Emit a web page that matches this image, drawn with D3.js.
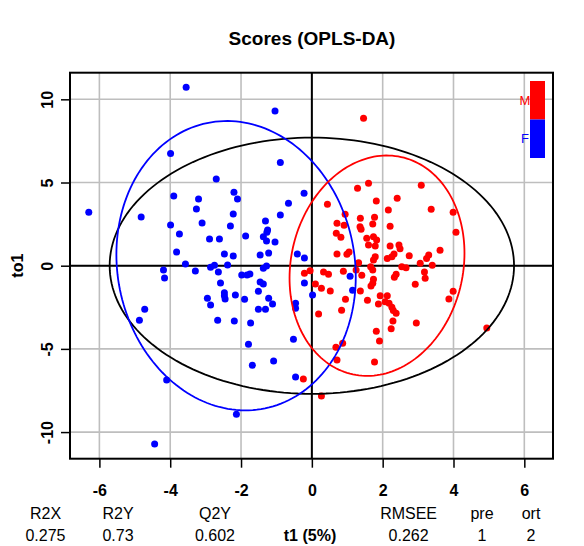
<!DOCTYPE html>
<html>
<head>
<meta charset="utf-8">
<script src="https://cdn.jsdelivr.net/npm/d3@7/dist/d3.min.js"></script>
<style>
  body { margin: 0; background: #fff; }
  svg { font-family: Arial, "Liberation Sans", sans-serif; }
</style>
</head>
<body>
<svg id="chart" width="584" height="546"></svg>
<script>
// Data (scores)
const femaleT1 = [-3.55,-1.04,-3.99,-0.89,-2.70,-6.30,-4.82,-3.90,-3.20,-3.26,-2.20,-2.10,-2.22,-3.99,-3.10,-2.30,-3.74,-2.89,-2.61,-1.87,-1.31,-1.25,-1.27,-1.37,-1.28,-1.04,-0.66,-0.89,-0.22,-3.82,-2.47,-2.22,-1.46,-1.22,-0.41,-0.21,-3.57,-4.19,-4.16,-3.29,-2.86,-2.75,-2.38,-2.64,-2.58,-1.98,-1.83,-1.75,-1.37,-1.28,-1.46,-1.37,-0.21,0.02,-2.47,-2.47,-2.45,-2.95,-2.86,-2.16,-1.90,-1.51,-1.22,-1.11,-1.51,-1.31,-0.46,-0.46,-4.72,-4.87,-2.66,-2.19,-1.73,-1.79,-0.52,-1.08,-1.68,-0.46,-4.10,-2.13,-4.44,1.08,1.15];
const femaleTo1 = [10.72,9.30,6.75,6.21,5.21,3.21,2.93,4.19,4.01,3.41,4.41,4.01,3.11,2.45,2.57,2.39,1.91,1.60,1.60,1.78,2.69,2.15,2.01,1.74,1.48,1.42,3.75,3.05,4.35,0.82,0.70,0.58,0.64,0.76,0.70,0.46,0.10,-0.26,-0.74,-0.32,-0.10,0.02,0.04,-0.38,-1.04,-0.56,-0.56,-0.50,-0.16,-0.02,-0.98,-1.10,-1.04,-1.76,-1.62,-1.80,-2.00,-1.96,-2.36,-1.76,-2.02,-1.54,-1.96,-2.30,-2.62,-2.62,-2.26,-2.56,-2.62,-3.28,-3.28,-3.32,-3.44,-4.72,-4.42,-5.73,-5.99,-6.69,-6.87,-8.93,-10.72,-0.64,-1.48];

const maleT1 = [1.46,1.60,1.29,3.09,1.82,2.41,0.44,2.16,3.37,3.99,0.94,1.37,1.77,0.71,0.91,1.36,1.39,1.72,2.21,4.07,0.69,0.82,1.55,1.74,1.83,1.60,1.79,2.21,2.46,2.49,3.62,0.71,0.99,1.05,1.79,2.13,2.26,2.32,2.75,3.24,3.30,3.06,3.40,1.32,1.74,1.66,2.54,2.66,-0.05,0.33,-0.21,0.47,0.89,1.25,1.72,1.41,1.74,1.72,1.67,2.38,2.33,3.18,3.20,2.92,0.10,0.27,0.52,1.37,0.95,1.57,1.93,2.13,2.07,1.88,2.18,2.26,2.30,2.38,3.99,3.87,0.84,0.19,2.29,2.24,2.95,1.82,1.91,0.87,0.68,0.71,1.77,4.94,-0.24,0.27];
const maleTo1 = [8.86,4.95,4.65,4.83,3.89,4.05,3.69,3.35,3.39,3.21,3.09,2.85,2.91,2.55,2.43,2.34,2.19,2.51,2.37,2.01,1.95,1.71,1.65,1.74,1.54,1.24,1.18,1.18,1.24,1.02,0.93,0.70,0.69,0.82,0.54,0.44,0.54,0.70,0.60,0.44,0.64,0.14,0.02,0.18,0.34,-0.06,-0.06,-0.12,-0.30,-0.38,-0.46,-0.52,-0.34,-0.26,-0.26,-0.58,-0.82,-1.06,-1.22,-0.52,-0.70,-0.38,-0.76,-1.12,-1.10,-1.36,-1.52,-1.52,-2.02,-2.08,-1.80,-1.80,-2.16,-2.30,-2.26,-2.50,-2.70,-2.86,-1.54,-2.00,-2.68,-2.90,-3.32,-3.79,-3.44,-3.94,-4.53,-4.66,-4.90,-5.67,-5.79,-3.74,-6.81,-7.83];

// Ellipses: centre and Cholesky factor [a, e, b] -> x = cx + a cos, y = cy + e cos + b sin
const ellipseNames = ["all", "F", "M"];
const ellipseCenters = [[0, 0], [-2.14, 0], [1.84, 0]];
const ellipseFactors = [[5.71, 0, 7.70], [3.38, -0.67, 8.67], [2.47, 0.75, 6.58]];
const ellipseColors = ["#000000", "#0000FF", "#FF0000"];

const xTicks = [-6, -4, -2, 0, 2, 4, 6];
const yTicks = [-10, -5, 0, 5, 10];

const statNames = ["R2X", "R2Y", "Q2Y", "RMSEE", "pre", "ort"];
const statValues = ["0.275", "0.73", "0.602", "0.262", "1", "2"];
const legendGroups = ["M", "F"];
const legendColors = ["#FF0000", "#0000FF"];

// Layout
const svg = d3.select("#chart");
const plot = { left: 70, right: 553, top: 72.7, bottom: 458.7 };

const x = d3.scaleLinear().domain([-6.83, 6.81]).range([plot.left, plot.right]);
const y = d3.scaleLinear().domain([-11.6, 11.6]).range([plot.bottom, plot.top]);

// Grid
const grid = svg.append("g").attr("stroke", "#BEBEBE").attr("stroke-width", 1.6);
grid.selectAll(".gx").data(xTicks).join("line")
  .attr("x1", d => x(d)).attr("x2", d => x(d))
  .attr("y1", plot.top).attr("y2", plot.bottom);
grid.selectAll(".gy").data(yTicks).join("line")
  .attr("y1", d => y(d)).attr("y2", d => y(d))
  .attr("x1", plot.left).attr("x2", plot.right);

// Zero lines
svg.append("line").attr("x1", x(0)).attr("x2", x(0)).attr("y1", plot.top).attr("y2", plot.bottom)
  .attr("stroke", "#000").attr("stroke-width", 2);
svg.append("line").attr("y1", y(0)).attr("y2", y(0)).attr("x1", plot.left).attr("x2", plot.right)
  .attr("stroke", "#000").attr("stroke-width", 2);

// Points
function drawPoints(t1, to1, color) {
  svg.append("g").selectAll("circle")
    .data(t1.map((v, i) => [v, to1[i]]))
    .join("circle")
    .attr("cx", d => x(d[0]))
    .attr("cy", d => y(d[1]))
    .attr("r", 3.5)
    .attr("fill", color);
}
drawPoints(femaleT1, femaleTo1, "#0000FF");
drawPoints(maleT1, maleTo1, "#FF0000");

// Ellipses
const angles = d3.range(0, 2 * Math.PI, Math.PI / 90);
const ellLine = d3.line().x(d => x(d[0])).y(d => y(d[1])).curve(d3.curveLinearClosed);
ellipseNames.forEach((name, k) => {
  const [cx, cy] = ellipseCenters[k];
  const [a, e, b] = ellipseFactors[k];
  const pts = angles.map(t => [cx + a * Math.cos(t), cy + e * Math.cos(t) + b * Math.sin(t)]);
  svg.append("path")
    .attr("d", ellLine(pts))
    .attr("fill", "none")
    .attr("stroke", ellipseColors[k])
    .attr("stroke-width", 1.8);
});

// Box
svg.append("rect")
  .attr("x", plot.left).attr("y", plot.top)
  .attr("width", plot.right - plot.left).attr("height", plot.bottom - plot.top)
  .attr("fill", "none").attr("stroke", "#000").attr("stroke-width", 2);

// Axes (R style hyphen minus)
const fmt = d => String(d);
const xAxis = svg.append("g")
  .attr("transform", `translate(0,${plot.bottom})`)
  .call(d3.axisBottom(x).tickValues(xTicks).tickSize(9).tickPadding(17).tickFormat(fmt));
xAxis.select(".domain").remove();
xAxis.selectAll("line").attr("stroke-width", 1.5);
xAxis.selectAll("text").attr("font-size", 16).attr("font-weight", "bold")
  .attr("font-family", "Arial, 'Liberation Sans', sans-serif").attr("fill", "#000");

const yAxis = svg.append("g")
  .attr("transform", `translate(${plot.left},0)`)
  .call(d3.axisLeft(y).tickValues(yTicks).tickSize(9).tickFormat(fmt));
yAxis.select(".domain").remove();
yAxis.selectAll("line").attr("stroke-width", 1.5);
yAxis.selectAll("text")
  .attr("font-size", 16).attr("font-weight", "bold")
  .attr("font-family", "Arial, 'Liberation Sans', sans-serif").attr("fill", "#000")
  .attr("text-anchor", "middle").attr("dy", null).attr("x", null)
  .attr("transform", "translate(-23,0) rotate(-90)")
  .attr("dominant-baseline", "central");

// Title and labels
svg.append("text").attr("x", 312).attr("y", 45).attr("text-anchor", "middle")
  .attr("font-size", 19).attr("font-weight", "bold").text("Scores (OPLS-DA)");
svg.append("text").attr("transform", `translate(23,${(plot.top + plot.bottom) / 2}) rotate(-90)`)
  .attr("text-anchor", "middle").attr("font-size", 16).attr("font-weight", "bold").text("to1");
svg.append("text").attr("x", 310).attr("y", 541).attr("text-anchor", "middle")
  .attr("font-size", 16).attr("font-weight", "bold").text("t1 (5%)");

// Stats table
const statX = [45.5, 118, 215, 408.6, 482, 531];
statNames.forEach((s, i) => {
  svg.append("text").attr("x", statX[i]).attr("y", 519).attr("text-anchor", "middle")
    .attr("font-size", 16).text(s);
  svg.append("text").attr("x", statX[i]).attr("y", 541).attr("text-anchor", "middle")
    .attr("font-size", 16).text(statValues[i]);
});

// Legend
const legY = d3.scaleBand().domain(legendGroups).range([81, 158]);
legendGroups.forEach((g, i) => {
  svg.append("rect").attr("x", 530).attr("y", legY(g))
    .attr("width", 15).attr("height", legY.bandwidth()).attr("fill", legendColors[i]);
  svg.append("text").attr("x", 525).attr("y", legY(g) + legY.bandwidth() / 2)
    .attr("text-anchor", "middle").attr("dominant-baseline", "central")
    .attr("font-size", 13).attr("fill", legendColors[i]).text(g);
});
</script>
</body>
</html>
